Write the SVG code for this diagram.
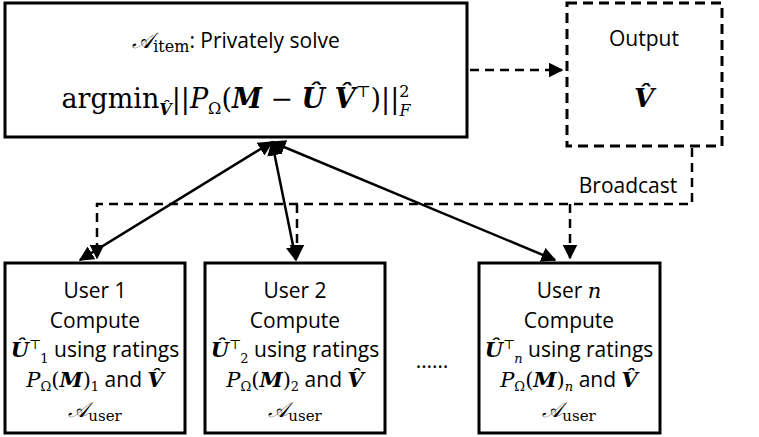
<svg xmlns="http://www.w3.org/2000/svg" width="759" height="437" viewBox="0 0 759 437">
<style>
.box{fill:#fff;stroke:#000;stroke-width:3}
.dbox{fill:#fff;stroke:#000;stroke-width:3;stroke-dasharray:10,6}
.t{font-family:"Open Sans","Liberation Sans",Arial,sans-serif;font-size:21px;text-anchor:middle}
.m{font-family:"DejaVu Serif","Liberation Serif",serif;text-anchor:middle}
.c{stroke:#000;stroke-width:2.5;fill:none}
.d{stroke:#000;stroke-width:2.5;fill:none;stroke-dasharray:9,6}
</style>
<defs>
<marker id="a" viewBox="0 0 10 10" refX="9" refY="5" markerWidth="6" markerHeight="6" orient="auto-start-reverse"><path d="M0,0L10,5L0,10z"/></marker>
</defs>
<g id="connectors">
<path class="d" d="M470,70H562" marker-end="url(#a)"/>
<path class="d" d="M692,148V204H97V258" marker-end="url(#a)"/>
<path class="d" d="M297,204V258" marker-end="url(#a)"/>
<path class="d" d="M570,204V258" marker-end="url(#a)"/>
<path class="c" d="M272,142L80,260" marker-start="url(#a)" marker-end="url(#a)"/>
<path class="c" d="M272,142L296,260" marker-start="url(#a)" marker-end="url(#a)"/>
<path class="c" d="M272,142L555,260" marker-start="url(#a)" marker-end="url(#a)"/>
<text class="t" x="628" y="193">Broadcast</text>
</g>
<g id="item">
<rect class="box" x="5" y="3" width="462" height="134"/>
<text class="t" x="236" y="48"><tspan class="m" font-style="italic" font-size="22">𝒜</tspan><tspan font-family="DejaVu Serif" font-size="16" dy="4">item</tspan><tspan dy="-4">: Privately solve</tspan></text>
<text class="m" x="236" y="108" font-size="27">argmin<tspan font-size="16" dy="7" font-weight="bold" font-style="italic">V̂</tspan><tspan dy="-7">||</tspan><tspan font-style="italic">P</tspan><tspan font-size="16" dy="6">Ω</tspan><tspan dy="-6">(</tspan><tspan font-weight="bold" font-style="italic">M</tspan> − <tspan font-weight="bold" font-style="italic">Û V̂</tspan><tspan font-size="16" dy="-11">⊤</tspan><tspan dy="11">)||</tspan><tspan font-size="16" dy="-11">2</tspan><tspan font-size="16" font-style="italic" dx="-10" dy="19">F</tspan></text>
</g>
<g id="output">
<rect class="dbox" x="567" y="3" width="155" height="143"/>
<text class="t" x="644" y="46">Output</text>
<text class="m" x="644" y="107" font-size="26" font-weight="bold" font-style="italic">V̂</text>
</g>
<g id="user1">
<rect class="box" x="5" y="263" width="180" height="170"/>
<text class="t" x="95" y="298">User 1</text>
<text class="t" x="95" y="328">Compute</text>
<text class="t" x="95" y="357"><tspan class="m" font-weight="bold" font-style="italic">Û</tspan><tspan class="m" font-size="13" dy="-8">⊤</tspan><tspan class="m" font-size="13" dx="-1" dy="14">1</tspan><tspan dy="-6"> using ratings</tspan></text>
<text class="t" x="95" y="387"><tspan class="m" font-style="italic">P</tspan><tspan class="m" font-size="13" dy="4">Ω</tspan><tspan class="m" dy="-4">(</tspan><tspan class="m" font-weight="bold" font-style="italic">M</tspan><tspan class="m">)</tspan><tspan class="m" font-size="13" dy="4">1</tspan><tspan dy="-4"> and </tspan><tspan class="m" font-weight="bold" font-style="italic">V̂</tspan></text>
<text class="t" x="95" y="417"><tspan class="m" font-style="italic">𝒜</tspan><tspan class="m" font-size="15" dy="4">user</tspan></text>
</g>
<g id="user2">
<rect class="box" x="205" y="263" width="180" height="170"/>
<text class="t" x="295" y="298">User 2</text>
<text class="t" x="295" y="328">Compute</text>
<text class="t" x="295" y="357"><tspan class="m" font-weight="bold" font-style="italic">Û</tspan><tspan class="m" font-size="13" dy="-8">⊤</tspan><tspan class="m" font-size="13" dx="-1" dy="14">2</tspan><tspan dy="-6"> using ratings</tspan></text>
<text class="t" x="295" y="387"><tspan class="m" font-style="italic">P</tspan><tspan class="m" font-size="13" dy="4">Ω</tspan><tspan class="m" dy="-4">(</tspan><tspan class="m" font-weight="bold" font-style="italic">M</tspan><tspan class="m">)</tspan><tspan class="m" font-size="13" dy="4">2</tspan><tspan dy="-4"> and </tspan><tspan class="m" font-weight="bold" font-style="italic">V̂</tspan></text>
<text class="t" x="295" y="417"><tspan class="m" font-style="italic">𝒜</tspan><tspan class="m" font-size="15" dy="4">user</tspan></text>
</g>
<text class="t" x="432" y="368">……</text>
<g id="usern">
<rect class="box" x="479" y="263" width="181" height="170"/>
<text class="t" x="569" y="298">User <tspan class="m" font-style="italic">n</tspan></text>
<text class="t" x="569" y="328">Compute</text>
<text class="t" x="569" y="357"><tspan class="m" font-weight="bold" font-style="italic">Û</tspan><tspan class="m" font-size="13" dy="-8">⊤</tspan><tspan class="m" font-size="13" font-style="italic" dx="-1" dy="14">n</tspan><tspan dy="-6"> using ratings</tspan></text>
<text class="t" x="569" y="387"><tspan class="m" font-style="italic">P</tspan><tspan class="m" font-size="13" dy="4">Ω</tspan><tspan class="m" dy="-4">(</tspan><tspan class="m" font-weight="bold" font-style="italic">M</tspan><tspan class="m">)</tspan><tspan class="m" font-size="13" font-style="italic" dy="4">n</tspan><tspan dy="-4"> and </tspan><tspan class="m" font-weight="bold" font-style="italic">V̂</tspan></text>
<text class="t" x="569" y="417"><tspan class="m" font-style="italic">𝒜</tspan><tspan class="m" font-size="15" dy="4">user</tspan></text>
</g>
</svg>
